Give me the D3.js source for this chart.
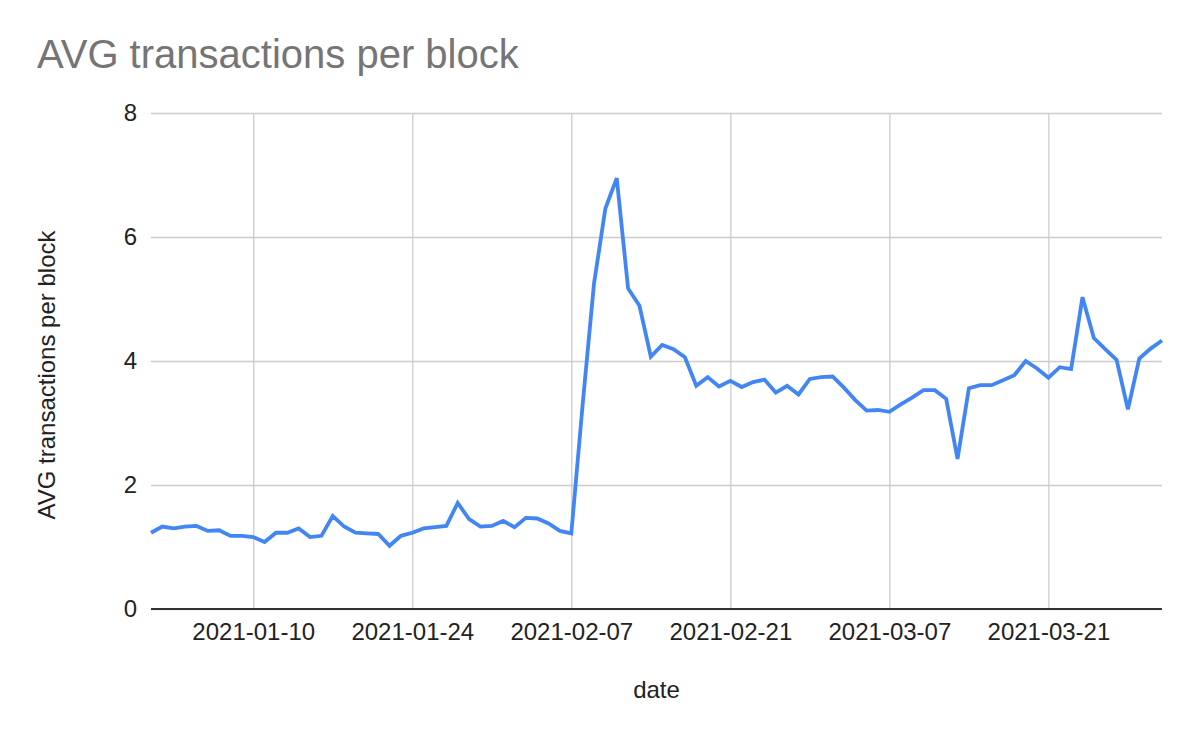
<!DOCTYPE html>
<html>
<head>
<meta charset="utf-8">
<script src="https://cdn.jsdelivr.net/npm/d3@7/dist/d3.min.js"></script>
<style>
  html, body { margin: 0; padding: 0; background: #fff; }
  svg { display: block; }
  text { font-family: Arial, "Liberation Sans", sans-serif; }
</style>
</head>
<body>
<svg id="chart" width="1200" height="742"></svg>
<script>
const dates = [
  "2021-01-01","2021-01-02","2021-01-03","2021-01-04","2021-01-05","2021-01-06","2021-01-07","2021-01-08","2021-01-09","2021-01-10",
  "2021-01-11","2021-01-12","2021-01-13","2021-01-14","2021-01-15","2021-01-16","2021-01-17","2021-01-18","2021-01-19","2021-01-20",
  "2021-01-21","2021-01-22","2021-01-23","2021-01-24","2021-01-25","2021-01-26","2021-01-27","2021-01-28","2021-01-29","2021-01-30",
  "2021-01-31","2021-02-01","2021-02-02","2021-02-03","2021-02-04","2021-02-05","2021-02-06","2021-02-07","2021-02-08","2021-02-09",
  "2021-02-10","2021-02-11","2021-02-12","2021-02-13","2021-02-14","2021-02-15","2021-02-16","2021-02-17","2021-02-18","2021-02-19",
  "2021-02-20","2021-02-21","2021-02-22","2021-02-23","2021-02-24","2021-02-25","2021-02-26","2021-02-27","2021-02-28","2021-03-01",
  "2021-03-02","2021-03-03","2021-03-04","2021-03-05","2021-03-06","2021-03-07","2021-03-08","2021-03-09","2021-03-10","2021-03-11",
  "2021-03-12","2021-03-13","2021-03-14","2021-03-15","2021-03-16","2021-03-17","2021-03-18","2021-03-19","2021-03-20","2021-03-21",
  "2021-03-22","2021-03-23","2021-03-24","2021-03-25","2021-03-26","2021-03-27","2021-03-28","2021-03-29","2021-03-30","2021-03-31"
];
const avgTx = [
  1.23,1.33,1.30,1.33,1.34,1.26,1.27,1.18,1.18,1.16,
  1.08,1.23,1.23,1.30,1.16,1.18,1.50,1.33,1.23,1.22,
  1.21,1.02,1.18,1.23,1.30,1.32,1.34,1.71,1.45,1.33,
  1.34,1.42,1.32,1.47,1.46,1.38,1.26,1.22,3.30,5.25,
  6.46,6.95,5.17,4.89,4.07,4.26,4.19,4.06,3.60,3.74,
  3.59,3.68,3.58,3.66,3.70,3.49,3.60,3.46,3.71,3.74,
  3.75,3.57,3.37,3.20,3.21,3.18,3.30,3.41,3.53,3.53,
  3.39,2.42,3.56,3.61,3.61,3.69,3.77,4.00,3.88,3.73,
  3.90,3.87,5.03,4.37,4.19,4.02,3.22,4.04,4.20,4.33
];
const xTickDates = ["2021-01-10","2021-01-24","2021-02-07","2021-02-21","2021-03-07","2021-03-21"];
const yTicks = [0, 2, 4, 6, 8];
const titleText = "AVG transactions per block";
const yTitleText = "AVG transactions per block";
const xTitleText = "date";

(function () {
const parse = d3.utcParse("%Y-%m-%d");
const fmt = d3.utcFormat("%Y-%m-%d");
const data = dates.map((d, i) => ({ date: parse(d), value: avgTx[i] }));

const pLeft = 151, pRight = 1162, pTop = 113, pBottom = 609;
const svg = d3.select("#chart");
const FONT = "Arial, 'Liberation Sans', sans-serif";

const x = d3.scaleUtc().domain(d3.extent(data, d => d.date)).range([pLeft, pRight]);
const y = d3.scaleLinear().domain([0, 8]).range([pBottom, pTop]);

// horizontal grid
svg.append("g")
  .attr("transform", `translate(${pLeft},0)`)
  .call(d3.axisLeft(y).tickValues(yTicks).tickSize(-(pRight - pLeft)).tickFormat(""))
  .call(g => g.select(".domain").remove())
  .call(g => g.selectAll("line").attr("stroke", "#cccccc").attr("stroke-width", 1.3));

// vertical grid
svg.append("g")
  .attr("transform", `translate(0,${pBottom})`)
  .call(d3.axisBottom(x).tickValues(xTickDates.map(parse)).tickSize(-(pBottom - pTop)).tickFormat(""))
  .call(g => g.select(".domain").remove())
  .call(g => g.selectAll("line").attr("stroke", "#cccccc").attr("stroke-width", 1.3));

// y tick labels
svg.append("g")
  .attr("transform", `translate(${pLeft},0)`)
  .call(d3.axisLeft(y).tickValues(yTicks).tickSize(0).tickPadding(14))
  .call(g => g.select(".domain").remove())
  .call(g => g.selectAll("text").attr("font-size", 24).attr("fill", "#222").attr("font-family", FONT));

// x tick labels
svg.append("g")
  .attr("transform", `translate(0,${pBottom})`)
  .call(d3.axisBottom(x).tickValues(xTickDates.map(parse)).tickSize(0).tickPadding(14).tickFormat(fmt))
  .call(g => g.select(".domain").remove())
  .call(g => g.selectAll("text").attr("font-size", 24).attr("fill", "#222").attr("font-family", FONT));

// baseline
svg.append("line")
  .attr("x1", pLeft).attr("x2", pRight)
  .attr("y1", y(0)).attr("y2", y(0))
  .attr("stroke", "#333").attr("stroke-width", 2);

// line
const line = d3.line().x(d => x(d.date)).y(d => y(d.value));
svg.append("path")
  .datum(data)
  .attr("d", line)
  .attr("fill", "none")
  .attr("stroke", "#4285F4")
  .attr("stroke-width", 3.8)
  .attr("stroke-linejoin", "miter")
  .attr("stroke-miterlimit", 4);

// titles
svg.append("text")
  .attr("x", 37).attr("y", 68)
  .attr("font-size", 40)
  .attr("font-family", FONT)
  .attr("fill", "#757575")
  .text(titleText);

svg.append("text")
  .attr("transform", "translate(55,375) rotate(-90)")
  .attr("text-anchor", "middle")
  .attr("font-size", 24)
  .attr("font-family", FONT)
  .attr("fill", "#222")
  .text(yTitleText);

svg.append("text")
  .attr("x", (pLeft + pRight) / 2).attr("y", 698)
  .attr("text-anchor", "middle")
  .attr("font-size", 24)
  .attr("font-family", FONT)
  .attr("fill", "#222")
  .text(xTitleText);
})();
</script>
</body>
</html>
